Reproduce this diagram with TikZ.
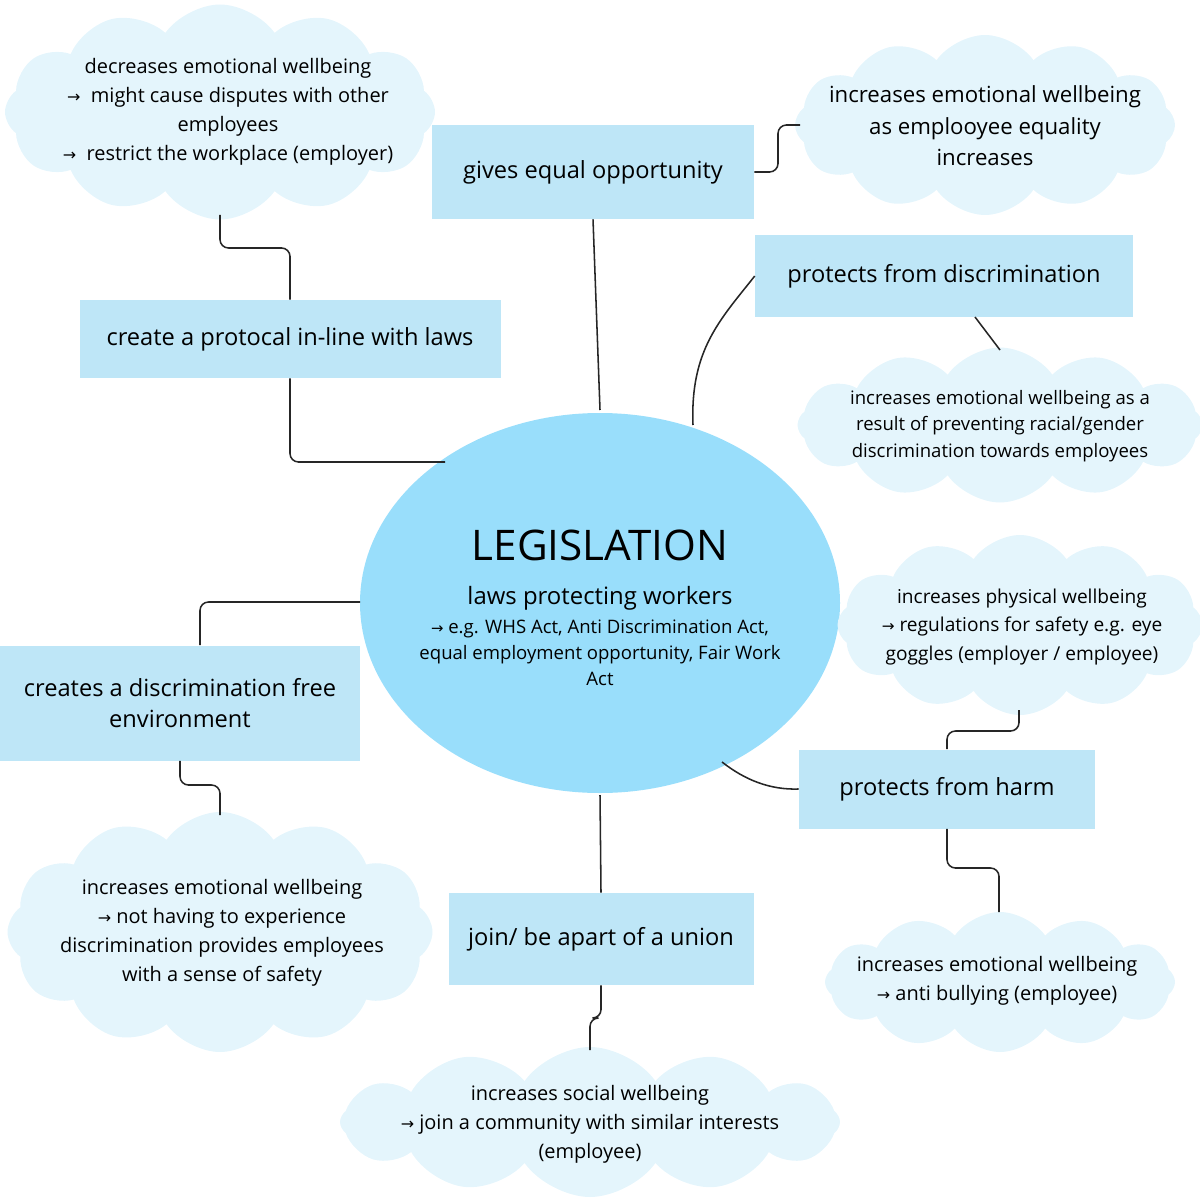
\documentclass[tikz,border=0pt]{standalone}
\usepackage{fontspec}
\setmainfont{Open Sans}
\newfontfamily\arrfont{DejaVu Sans}
\newcommand{\arr}{{\arrfont\scalebox{0.8}{→}}}
\usetikzlibrary{positioning,shapes.symbols,shapes.geometric}
\definecolor{boxblue}{HTML}{BEE6F7}
\definecolor{cloudblue}{HTML}{E4F5FC}
\definecolor{ovalblue}{HTML}{99DEFB}
\begin{document}
\begin{tikzpicture}[
    x=0.025cm, y=-0.025cm,
    box/.style={rectangle, fill=boxblue, align=center, font=\fontsize{16.8}{21.5}\selectfont, inner sep=0pt},
    puff/.style={cloud, cloud puffs=12, cloud puff arc=110, fill=cloudblue, inner sep=0pt},
    ptext/.style={align=center, font=\fontsize{14.2}{20.5}\selectfont},
    link/.style={draw=black!85, line width=1.1pt, rounded corners=6pt}
]
\useasboundingbox (0,0) rectangle (1200,1200);
% centre
\node[ellipse, fill=ovalblue, minimum width=480*0.025cm, minimum height=380*0.025cm] (legis) at (600,603) {};
\node[font=\fontsize{30}{34}\selectfont\scshape] (title) at (600,545) {LEGISLATION};
\node[align=center, font=\fontsize{17}{20}\selectfont] (sub) at (600,598) {laws protecting workers};
\node[align=center, font=\fontsize{13.2}{18.5}\selectfont] (acts) at (600,653) {\arr\ e.g. WHS Act, Anti Discrimination Act,\\equal employment opportunity, Fair Work\\Act};
% boxes
\node[box, minimum width=322*0.025cm, minimum height=94*0.025cm] (equal) at (593,172) {gives equal opportunity};
\node[box, minimum width=378*0.025cm, minimum height=82*0.025cm] (discrim) at (944,276) {protects from discrimination};
\node[box, minimum width=421*0.025cm, minimum height=78*0.025cm] (protocol) at (290,339) {create a protocal in-line with laws};
\node[box, minimum width=360*0.025cm, minimum height=115*0.025cm] (free) at (180,703) {creates a discrimination free\\environment};
\node[box, minimum width=296*0.025cm, minimum height=79*0.025cm] (harm) at (947,789) {protects from harm};
\node[box, minimum width=305*0.025cm, minimum height=92*0.025cm] (union) at (601,939) {join/ be apart of a union};
% clouds
\node[puff, minimum width=430*0.025cm, minimum height=215*0.025cm] (cTL) at (220,112) {};
\node[ptext] at (228,112) {decreases emotional wellbeing\\\arr\ \ might cause disputes with other\\employees\\\arr\ \ restrict the workplace (employer)};
\node[puff, minimum width=380*0.025cm, minimum height=180*0.025cm] (cTR) at (985,125) {};
\node[ptext, font=\fontsize{15.8}{22.5}\selectfont] at (985,126) {increases emotional wellbeing\\as emplooyee equality\\increases};
\node[puff, minimum width=405*0.025cm, minimum height=155*0.025cm] (cRM) at (1000,425) {};
\node[ptext, font=\fontsize{13.2}{19}\selectfont] at (1000,426) {increases emotional wellbeing as a\\result of preventing racial/gender\\discrimination towards employees};
\node[puff, minimum width=365*0.025cm, minimum height=180*0.025cm] (cR) at (1020,625) {};
\node[ptext, font=\fontsize{13.6}{20}\selectfont] at (1022,627) {increases physical wellbeing\\\arr\ regulations for safety e.g. eye\\goggles (employer / employee)};
\node[puff, minimum width=350*0.025cm, minimum height=140*0.025cm] (cBR) at (1000,982) {};
\node[ptext] at (997,981) {increases emotional wellbeing\\\arr\ anti bullying (employee)};
\node[puff, minimum width=425*0.025cm, minimum height=240*0.025cm] (cBL) at (220,932) {};
\node[ptext] at (222,933) {increases emotional wellbeing\\\arr\ not having to experience\\discrimination provides employees\\with a sense of safety};
\node[puff, minimum width=500*0.025cm, minimum height=150*0.025cm] (cB) at (590,1122) {};
\node[ptext] at (590,1124) {increases social wellbeing\\\arr\ join a community with similar interests\\(employee)};
% free ends on the oval
\coordinate (eTL) at (445,462);
\coordinate (eT) at (600,410);
\coordinate (eTR) at (693,425);
\coordinate (eL) at (360,602);
\coordinate (eB) at (600,795);
\coordinate (eBR) at (722,762);
% connectors
\draw[link] (220,215) -- (220,248) -- (290,248) -- (protocol.north);
\draw[link] (protocol.south) -- (290,462) -- (eTL);
\draw[link] (equal.south) -- (eT);
\draw[link] (equal.east) -- (778,172) -- (778,125) -- (800,125);
\draw[link] (eTR) .. controls (690,350) and (720,320) .. (discrim.west);
\draw[link] (975,317) -- (1000,350);
\draw[link] (eL) -- (200,602) -- (free.north -| 200,0);
\draw[link] (free.south) -- (180,785) -- (220,785) -- (220,815);
\draw[link] (eB) -- (union.north);
\draw[link] (union.south) -- (601,1018) -- (590,1018) -- (590,1050);
\draw[link] (eBR) .. controls (745,780) and (770,790) .. (harm.west);
\draw[link] (harm.north) -- (947,731) -- (1019,731) -- (1019,710);
\draw[link] (harm.south) -- (947,868) -- (999,868) -- (999,912);
\end{tikzpicture}
\end{document}
